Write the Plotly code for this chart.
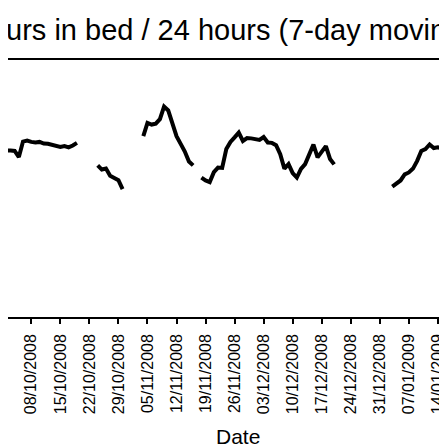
import pandas as pd
import plotly.graph_objects as go

# 7-day moving average of hours in bed per 24 hours, recorded in stretches
seg_starts = ["2008-10-01", "2008-10-24", "2008-11-04", "2008-11-18", "2009-01-03"]

seg_oct_a = [9.18, 9.19, 9.18, 9.17, 8.98, 9.46, 9.49, 9.45, 9.43, 9.45,
             9.40, 9.39, 9.35, 9.31, 9.29, 9.32, 9.28, 9.34, 9.42]
seg_oct_b = [8.72, 8.59, 8.62, 8.40, 8.33, 8.26, 7.98]
seg_nov_a = [9.63, 10.04, 9.99, 10.02, 10.16, 10.55, 10.43, 10.07, 9.63,
             9.39, 9.15, 8.84, 8.72]
seg_nov_b = [8.34, 8.25, 8.20, 8.51, 8.65, 8.64, 9.23, 9.45, 9.59, 9.74,
             9.48, 9.57, 9.56, 9.54, 9.51, 9.60, 9.43, 9.42, 9.35, 9.07,
             8.62, 8.76, 8.48, 8.34, 8.61, 8.76, 9.07, 9.37, 8.97, 9.15,
             9.32, 8.92, 8.75]
seg_jan = [8.06, 8.14, 8.25, 8.44, 8.50, 8.62, 8.86, 9.17, 9.23, 9.37,
           9.26, 9.28, 9.25, 9.21, 9.18, 9.16, 9.14, 9.13]

segments = [seg_oct_a, seg_oct_b, seg_nov_a, seg_nov_b, seg_jan]

dates = []
values = []
for start, vals in zip(seg_starts, segments):
    days = pd.date_range(start, periods=len(vals) + 1, freq="D")
    dates.extend(days)
    values.extend(vals + [None])  # break the line between stretches

fig = go.Figure()
fig.add_trace(go.Scatter(
    x=dates, y=values, mode="lines",
    line=dict(color="black", width=4),
    connectgaps=False, showlegend=False,
))

fig.update_layout(
    width=447, height=447,
    margin=dict(l=0, r=0, t=52, b=138),
    paper_bgcolor="white", plot_bgcolor="white",
    font=dict(family="Liberation Sans, Arial, sans-serif", color="black"),
    xaxis=dict(
        range=["2008-10-02 09:13", "2009-01-18 02:53"],
        tick0="2008-10-08", dtick=7 * 86400000,
        tickformat="%d/%m/%Y", tickangle=-90,
        tickfont=dict(size=16), ticklabelstandoff=4,
        ticks="outside", ticklen=5, tickwidth=1.5, tickcolor="black",
        showline=True, linecolor="black", linewidth=1.5, mirror=True,
        showgrid=False, zeroline=False, automargin=False,
    ),
    yaxis=dict(range=[4, 12], visible=False),
    annotations=[
        dict(text="Hours in bed / 24 hours (7-day moving average)",
             xref="paper", yref="paper", x=-41 / 447, y=1.0, yshift=30,
             xanchor="left", yanchor="middle", showarrow=False,
             font=dict(size=29)),
        dict(text="Date", xref="paper", yref="paper", x=230 / 447, y=0,
             yshift=-119, xanchor="center", yanchor="middle",
             showarrow=False, font=dict(size=21)),
    ],
)

fig.write_html("out.html")
